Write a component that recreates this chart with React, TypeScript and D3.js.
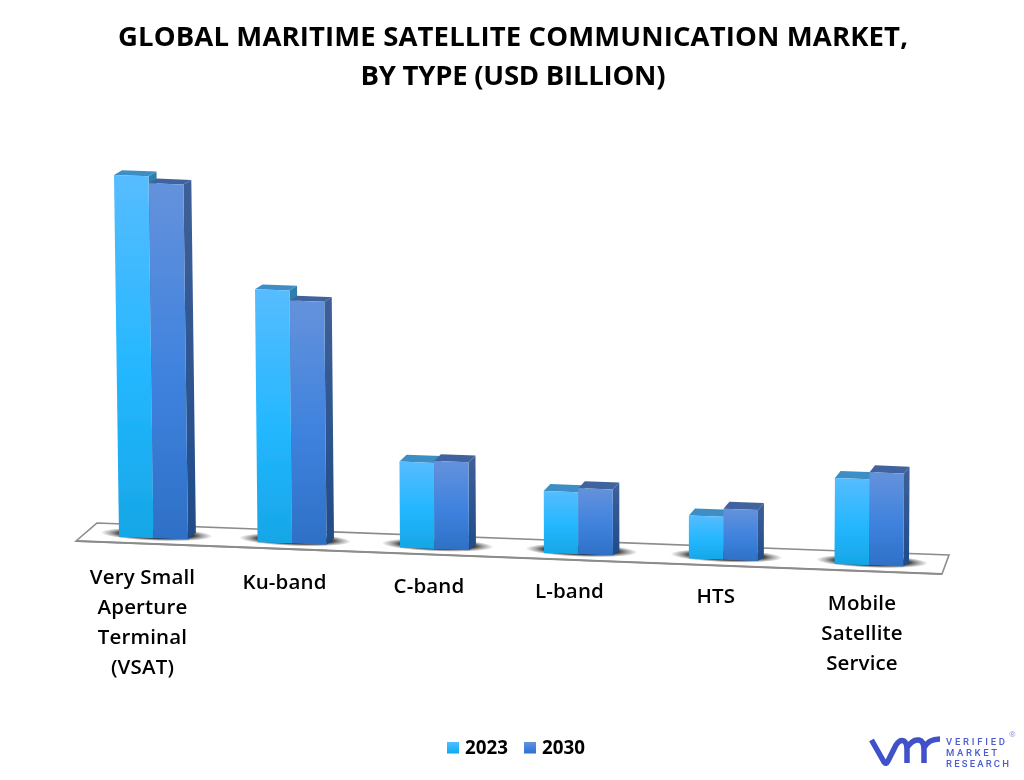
import React from "react";
import * as d3 from "d3";

const titleLines = ["GLOBAL MARITIME SATELLITE COMMUNICATION MARKET,", "BY TYPE (USD BILLION)"];
const titleWidths = [790, 305];
const categories = ["Very Small Aperture Terminal (VSAT)", "Ku-band", "C-band", "L-band", "HTS", "Mobile Satellite Service"];
const categoryLines = [["Very Small", "Aperture", "Terminal", "(VSAT)"], ["Ku-band"], ["C-band"], ["L-band"], ["HTS"], ["Mobile", "Satellite", "Service"]];
const seriesNames = ["2023", "2030"];
const values2023 = [3.62, 2.53, 0.86, 0.62, 0.43, 0.86];
const values2030 = [3.55, 2.43, 0.88, 0.66, 0.51, 0.93];
const seriesValues = [values2023, values2030];

const FONT = "'Open Sans', sans-serif";
const BAR_W = 34.5;
const labelDx = [-11, -7.5, -5.5, -9, -7.5, -7];
const labelDy = [0, 0, -2, -2, -2, -1];

const idx = d3.scalePow().exponent(1.02).domain([0, 5]).range([153.5, 869]);
const floorY = d3.scaleLinear().domain([119, 836]).range([537, 564]);
const valueH = d3.scaleLinear().domain([0, 3.62]).range([0, 362]);
const lean = d3.scaleLinear().domain([119, 836]).range([-0.0138, 0.005]);
const depthX = d3.scaleLinear().domain([119, 870]).range([8, 5.5]);
const depthBase = d3.scaleLinear().domain([119, 870]).range([-7, -4]);
const depthTop = d3.scaleLinear().domain([300, 480]).range([-4.7, -7]).clamp(true);
const poly = (pts: number[][]) => "M" + pts.map((p) => p.join(",")).join("L") + "Z";

const front = ["url(#g23)", "url(#g30)"];
const sideFill = ["url(#s23)", "url(#s30)"];
const topFill = ["#3d8ec4", "#41649f"];

function Bar({ cat, ser }: { cat: number; ser: number }) {
  const xl = idx(cat) - BAR_W + ser * BAR_W;
  const xr = xl + BAR_W;
  const yl = floorY(xl);
  const yr = floorY(xr);
  const h = valueH(seriesValues[ser][cat]);
  const k = lean(xl);
  const tl = [xl + k * h, yl - h];
  const tr = [xr + k * h, yr - h];
  const bl = [xl, yl];
  const br = [xr, yr];
  const dx = depthX(xl);
  const dy = depthTop(yl - h);
  return (
    <g>
      <path d={poly([br, tr, [tr[0] + dx, tr[1] + dy], [br[0] + dx, br[1] + depthBase(xl)]])} fill={sideFill[ser]} />
      <path d={poly([tl, tr, [tr[0] + dx, tr[1] + dy], [tl[0] + dx, tl[1] + dy]])} fill={topFill[ser]} />
      <path d={poly([bl, tl, tr, br])} fill={front[ser]} />
    </g>
  );
}

export default function App() {
  return (
    <svg width={1024} height={780} style={{ position: "absolute", left: 0, top: 0, background: "#fff" }} fontFamily={FONT}>
      <defs>
        <linearGradient id="g23" x1="0" y1="0" x2="0" y2="1">
          <stop offset="0" stopColor="#57bcff" />
          <stop offset="0.55" stopColor="#23b7ff" />
          <stop offset="1" stopColor="#16a6e6" />
        </linearGradient>
        <linearGradient id="g30" x1="0" y1="0" x2="0" y2="1">
          <stop offset="0" stopColor="#6492dc" />
          <stop offset="0.55" stopColor="#3e82de" />
          <stop offset="1" stopColor="#2e70c6" />
        </linearGradient>
        <linearGradient id="s23" x1="0" y1="0" x2="0" y2="1">
          <stop offset="0" stopColor="#2f7fae" />
          <stop offset="1" stopColor="#1a6fa8" />
        </linearGradient>
        <linearGradient id="s30" x1="0" y1="0" x2="0" y2="1">
          <stop offset="0" stopColor="#3f6098" />
          <stop offset="1" stopColor="#1f4c88" />
        </linearGradient>
        <radialGradient id="sh">
          <stop offset="0" stopColor="#000" stopOpacity="0.95" />
          <stop offset="0.62" stopColor="#000" stopOpacity="0.85" />
          <stop offset="0.82" stopColor="#000" stopOpacity="0.35" />
          <stop offset="1" stopColor="#000" stopOpacity="0" />
        </radialGradient>
        <filter id="soft" x="-5%" y="-5%" width="110%" height="110%">
          <feGaussianBlur stdDeviation="0.45" />
        </filter>
      </defs>
      <g filter="url(#soft)">
        <g textAnchor="middle" fontWeight={700} fontSize={27.5} fill="#000">
          {titleLines.map((t, i) => (
            <text key={t} x={513} y={46 + i * 39} textLength={titleWidths[i]} lengthAdjust="spacing">{t}</text>
          ))}
        </g>

        <path d={poly([[76, 541], [97, 523], [949, 555], [942, 574]])} fill="#fff" stroke="#8c8c8c" strokeWidth={1.6} />
        <path d="M76,541L942,574" stroke="#8c8c8c" strokeWidth={2} fill="none" />

        {categories.map((c, i) => {
          const cx = idx(i);
          const y = floorY(cx);
          return <ellipse key={c} cx={cx + 3} cy={y - 4} rx={56} ry={6.5} fill="url(#sh)" transform={`rotate(2 ${cx} ${y})`} />;
        })}
        {categories.map((c, i) => (
          <g key={c}>
            {seriesNames.map((s, j) => <Bar key={s} cat={i} ser={j} />)}
          </g>
        ))}

        <g textAnchor="middle" fontWeight={600} fontSize={20.5} letterSpacing={0.15} fill="#000">
          {categoryLines.map((lines, i) => {
            const cx = idx(i) + labelDx[i];
            const y0 = floorY(idx(i) - BAR_W) + 47 + labelDy[i];
            return lines.map((l, j) => (
              <text key={l} x={cx} y={y0 + j * 30}>{l}</text>
            ));
          })}
        </g>

        <g fontWeight={700} fontSize={18.8} fill="#000">
          {seriesNames.map((s, i) => (
            <g key={s} transform={`translate(${447 + i * 77},742)`}>
              <rect width={12} height={11.5} fill={front[i]} />
              <text x={18} y={11.5}>{s}</text>
            </g>
          ))}
        </g>

        <g>
          <path d="M871.5,740 L884,762 Q886,765 888,761 L896,745 Q900,739 904,741 Q907,743 907,750 L907,763 M907,748 Q912,739 919,740 Q924,741 924,750 L924,763 M924,748 Q928,739 940,739"
            fill="none" stroke="#3f51c9" strokeWidth={5.5} strokeLinecap="butt" strokeLinejoin="round" />
          <g fill="#4a5bd0" fontSize={9.5} fontWeight={500} fontFamily="Roboto, sans-serif">
            <text x={946} y={745} textLength={59} lengthAdjust="spacing">VERIFIED</text>
            <text x={946} y={756} textLength={51} lengthAdjust="spacing">MARKET</text>
            <text x={946} y={767} textLength={63} lengthAdjust="spacing">RESEARCH</text>
          </g>
          <text x={1009} y={737} fontSize={8} fill="#8a94d8">®</text>
        </g>
      </g>
    </svg>
  );
}
